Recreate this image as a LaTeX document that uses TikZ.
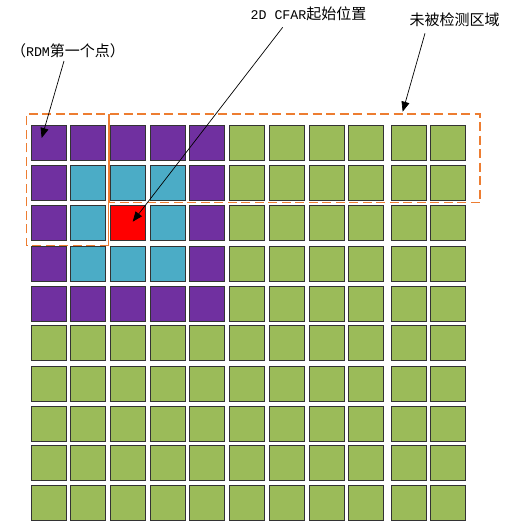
\documentclass[tikz,border=0pt]{standalone}
\usepackage{fontspec}
\newfontfamily\cjk{Noto Sans CJK SC}
\newfontfamily\mono{Liberation Mono}
\usetikzlibrary{arrows.meta}
\definecolor{cellc0}{HTML}{9BBB59}
\definecolor{cellc1}{HTML}{7030A0}
\definecolor{cellc2}{HTML}{4BACC6}
\definecolor{cellc3}{HTML}{FF0000}
\definecolor{orng}{HTML}{ED7D31}
\begin{document}
\begin{tikzpicture}[x=1pt,y=-1pt,
  cell/.style={draw=black!80, line width=0.9pt, minimum size=35pt, inner sep=0pt, outer sep=0pt, anchor=north west},
  lbl/.style={font=\cjk\fontsize{15}{16}\selectfont, inner sep=0pt, anchor=center},
  dbox/.style={draw=orng, line width=1.4pt, dash pattern=on 9pt off 4.5pt},
  sbox/.style={draw=orng, line width=1pt},
  arr/.style={draw=black, line width=0.7pt, -{Triangle[length=10pt,width=8pt]}}]
\useasboundingbox (0,0) rectangle (512,522);
\foreach \x [count=\i from 0] in {31.2,70.8,110.5,150.5,189.8,229.8,269.5,309.2,348.8,391.2,430.8} {
  \foreach \y [count=\j from 0] in {125.2,165.5,205.5,246.2,286.5,325.5,366.5,406.2,445.5,485.5} {
    \pgfmathtruncatemacro\k{(\i<=4 && \j<=4) ? ((\i==0 || \i==4 || \j==0 || \j==4) ? 1 : ((\i==2 && \j==2) ? 3 : 2)) : 0}
    \node[cell, fill=cellc\k] (c-\i-\j) at (\x,\y) {};
  }
}
% small region (first point)
\draw[dbox] (108.8,245.7) -- (26.7,245.7) -- (26.7,114) -- (108.8,114);
\draw[sbox] (108.8,114) -- (108.8,245.7);
% large region (not detected)
\draw[dbox] (110,114) -- (480,114) -- (480,202.7) -- (110,202.7);
\draw[sbox] (109.8,114) -- (109.8,202.7);
\node[lbl] (t1) at (68,51) {（{\mono\fontsize{13.3}{14}\selectfont RDM}第一个点）};
\node[lbl] (t2) at (308.5,14) {{\mono\fontsize{13.3}{14}\selectfont 2D CFAR}起始位置};
\node[lbl] (t3) at (454.5,20) {未被检测区域};
\coordinate (s1) at (64,61);
\coordinate (e1) at (41.7,138);
\coordinate (s2) at (282.7,27.3);
\coordinate (e2) at (132.7,221.7);
\coordinate (s3) at (425,33.3);
\coordinate (e3) at (402.7,111.7);
\draw[arr] (s1) -- (e1);
\draw[arr] (s2) -- (e2);
\draw[arr] (s3) -- (e3);
\end{tikzpicture}
\end{document}
